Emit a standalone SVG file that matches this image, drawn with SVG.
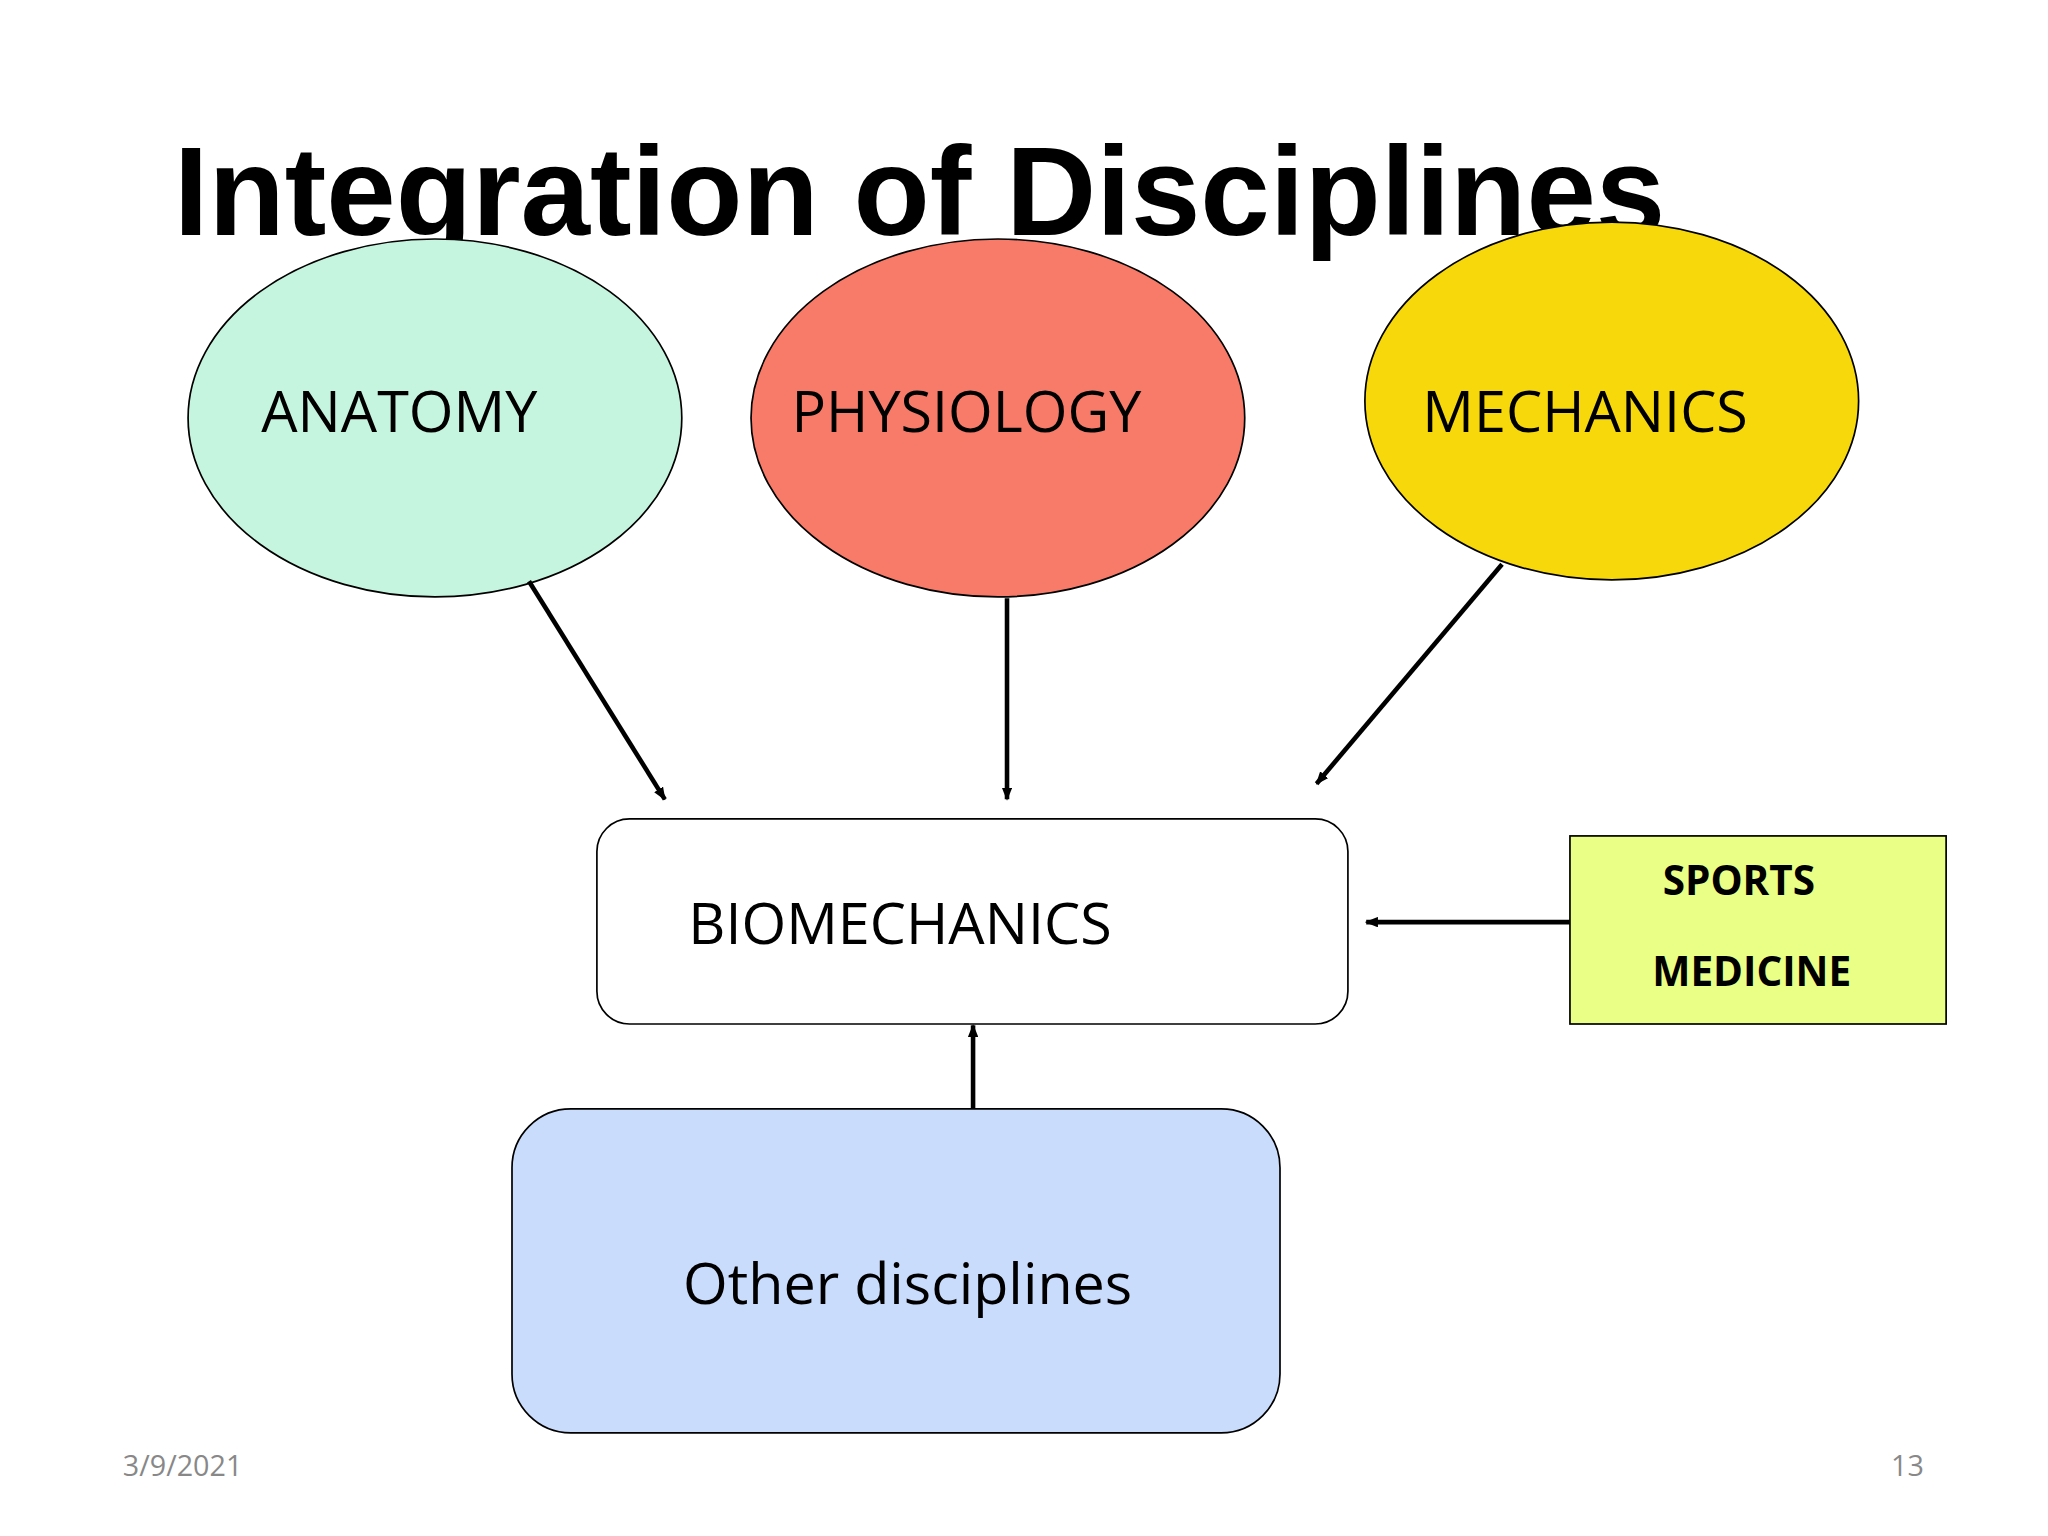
<svg xmlns="http://www.w3.org/2000/svg" width="2048" height="1536" viewBox="0 0 2048 1536">
<style>
.n{stroke:#000;stroke-width:1.3}
.t{font-family:"Open Sans","Liberation Sans",sans-serif;font-size:44px;fill:#000}
.b{font-family:"Open Sans","Liberation Sans",sans-serif;font-size:31px;font-weight:bold;fill:#000}
.c{stroke:#000;stroke-width:3.5;fill:none;marker-end:url(#a)}
.f{font-family:"Open Sans","Liberation Sans",sans-serif;font-size:22px;fill:#888}
</style>
<defs><marker id="a" markerWidth="10" markerHeight="8" refX="9" refY="4" orient="auto" markerUnits="userSpaceOnUse" viewBox="0 0 10 8"><path d="M0,0L10,4L0,8z" fill="#000"/></marker></defs>
<rect width="2048" height="1536" fill="#fff"/>
<g transform="scale(1.30612)">
<text x="133" y="180" font-family="Liberation Sans,Arial,sans-serif" font-weight="bold" font-size="96" textLength="1142" lengthAdjust="spacingAndGlyphs">Integration of Disciplines</text>
<g id="anatomy"><ellipse class="n" cx="333" cy="320" rx="189" ry="137" fill="#c6f5df"/><text class="t" x="200" y="331">ANATOMY</text></g>
<g id="physiology"><ellipse class="n" cx="764" cy="320" rx="189" ry="137" fill="#f87a68"/><text class="t" x="606" y="331">PHYSIOLOGY</text></g>
<g id="mechanics"><ellipse class="n" cx="1234" cy="307" rx="189" ry="137" fill="#f7d80b"/><text class="t" x="1089" y="331">MECHANICS</text></g>
<g id="biomechanics"><rect class="n" x="457" y="627" width="575" height="157" rx="25" fill="#fff"/><text class="t" x="527" y="723">BIOMECHANICS</text></g>
<g id="sports"><rect class="n" x="1202" y="640" width="288" height="144" fill="#eaff85"/><text class="b" x="1273" y="685">SPORTS</text><text class="b" x="1265" y="755">MEDICINE</text></g>
<g id="other"><rect class="n" x="392" y="849" width="588" height="248" rx="45" fill="#cadcfb"/><text class="t" x="523" y="998">Other disciplines</text></g>
<g id="connectors">
<line class="c" x1="405" y1="445" x2="509" y2="612"/>
<line class="c" x1="771" y1="458" x2="771" y2="612"/>
<line class="c" x1="1150" y1="432" x2="1008" y2="600"/>
<line class="c" x1="1202" y1="706" x2="1046" y2="706"/>
<line class="c" x1="745" y1="849" x2="745" y2="785"/>
</g>
<text class="f" x="94" y="1130">3/9/2021</text>
<text class="f" x="1473" y="1130" text-anchor="end">13</text>
</g>
</svg>
